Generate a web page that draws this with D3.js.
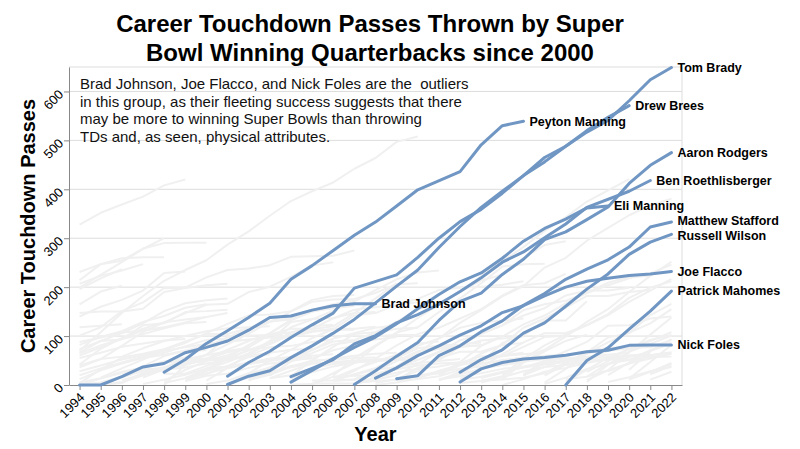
<!DOCTYPE html>
<html><head><meta charset="utf-8">
<script src="https://cdn.jsdelivr.net/npm/d3@7"></script>
<style>
body{margin:0;background:#fff;}
text{font-family:"Liberation Sans",Arial,Helvetica,sans-serif;}
</style>
</head><body>
<svg id="chart" width="800" height="449"></svg>
<script>
// ---------- DATA ----------
const yearTicks = [1994,1995,1996,1997,1998,1999,2000,2001,2002,2003,2004,2005,2006,2007,2008,2009,2010,2011,2012,2013,2014,2015,2016,2017,2018,2019,2020,2021,2022];
const yTicks = [0,100,200,300,400,500,600];

// Highlighted Super Bowl winners: start year and career TD totals (null = season skipped)
const winnerNames = ["Tom Brady","Drew Brees","Peyton Manning","Aaron Rodgers","Ben Roethlisberger","Eli Manning","Matthew Stafford","Russell Wilson","Joe Flacco","Patrick Mahomes","Nick Foles","Brad Johnson"];
const winnerStart = [2001,2001,1998,2007,2004,2004,2009,2012,2008,2017,2012,1994];
const tomBrady = [18,46,69,97,123,147,198,null,225,261,300,334,359,392,428,456,488,517,541,581,624,649];
const drewBrees = [1,18,29,56,80,106,134,168,202,235,281,324,363,396,428,465,488,520,547,571];
const peytonManning = [26,52,85,111,138,167,216,244,275,306,333,366,399,null,436,491,530,539];
const aaronRodgers = [1,29,59,87,132,171,188,226,257,297,313,338,364,412,449,475];
const benRoethlisberger = [17,34,52,84,101,127,144,165,191,219,251,272,301,329,363,null,396,418];
const eliManning = [6,30,54,77,98,125,156,185,211,229,259,294,320,339,362,366];
const matthewStafford = [13,19,60,80,109,131,163,187,216,237,256,282,323,333];
const russellWilson = [26,52,72,106,127,161,196,227,267,292,308];
const joeFlacco = [14,35,60,80,102,121,148,162,182,200,212,218,224,227,232];
const patrickMahomes = [0,50,76,114,151,192];
const nickFoles = [6,33,46,53,56,61,68,71,81,82,82];
const bradJohnson = [0,0,17,37,44,66,77,90,112,138,141,153,162,166,166];
const winnerTD = [tomBrady,drewBrees,peytonManning,aaronRodgers,benRoethlisberger,eliManning,matthewStafford,russellWilson,joeFlacco,patrickMahomes,nickFoles,bradJohnson];
const labelNudge = [0,0,0,0,0,0,-1.5,1.5,0,0,0,0];

// Other quarterbacks (background): start year and career TD totals
const otherStart = [1994,1994,1994,1994,1994,1994,1994,1994,1994,1994,1994,1994,1994,1995,1995,1997,1996,1999,2000,2004,2004,2008,2006,2006,2011,2011,2012,2014,2012,2016,2016,2005,1998,1998,2005,2018,2018,2012,2015,2000,1998,1994,1994,1994,1994,1994,2002,2003,2007,2020,2020,2019,2018,2017,2010,2012,2009,2001,2005,2003,2000,2006,2015,2014,2015,2013,2009,2006,2008,1995,1999,1999,1994,1994,1996,1994,1994,1994,
  1994,1994,1994,1994,1994,1994,1995,1996,1997,1998,1999,1999,2001,2002,2002,2002,2003,2004,2006,2006,2007,2007,2008,2008,2011,2011,2011,2012,2013,2013,2014,2016,2016,2017,2018,2019,2019,2020,2021,2021,2021,2022];
const otherTD = [
 [328,352,369,385,408,420],
 [199,225,251,278,300],
 [196,218,237],
 [231,247,259,261,261],
 [214,247,254,279,290,291,291],
 [207,223,234,247],
 [140,160,174,193,229,232],
 [165,191,203],
 [147,150,150,156,190,198,204,207],
 [82,98,110,129,141,158,165],
 [101,118,151,169,198,199,220,235,238,245,262,263,264,275],
 [70,108,147,182,213,235,255,287,314,346,376,396,414,442,464,497,508],
 [40,53,80,108,128,147,164,166,190,201,221,244,251],
 [14,25,36,48,56,78,97,116,129,150,170,175,176,188,206,208],
 [15,34,52,72,86,106,125,142,144,151,174,182,184],
 [15,32,41,54,72,90,105,132,150,161],
 [6,20,35,47,62,83,105,129,137,153,165,174],
 [8,29,54,71,87,118,134,152,171,194,216,230,234],
 [2,9,24,50,72,96,114,142,147,164,176,194,199,201,205,212],
 [18,50,78,104,108,129,155,168,190,214,225,260,286,294],
 [1,2,24,45,79,107,137,164,190,222,253,282,315,343,375,398,421],
 [16,38,66,95,127,153,181,202,240,260,295,321,347,367,381],
 [9,29,54,81,104,117,136,155,183,204,208,227],
 [19,55,81,107,118,149,177,208,242,247,248],
 [20,47,80,99,124,142,167,188,204,218,228,246],
 [21,40,64,82,117,136,158,182,182,190,194],
 [4,8,18,47,72,99,129,155,190,223,252],
 [21,53,81,103,122,143,170,193,217],
 [12,36,63,87,106,106,123,145,178,199,212],
 [23,45,67,97,106,143,166],
 [5,33,65,87,107,126,155],
 [1,17,19,19,37,51,68,81,104,122,142,157,183,193,193,199],
 [0,41,62,98,101,102,108,114,120,147,177,208],
 [23,23,39,56,82,106,133,150,157,162],
 [3,3,3,11,20,43,67,91,105,122,153,165,172,189,209,221,223],
 [10,30,67,103,138],
 [6,42,68,84,101],
 [23,46,86,101,132,132,171],
 [22,50,69,88,121,122,136,140],
 [33,47,65,90,129,135,137,147,149],
 [8,31,49,61,77,103,115,115,136,154,159,164,169],
 [73,90,106,126,151,167,173,177],
 [4,32,56,64,73,89,104,104,117,130,134],
 [36,53,58,75,90,100,110,116,118,120],
 [64,81,94,104,116,126,129],
 [1,5,17,38,59,70,82,89,93,97,98,109,113,113],
 [14,36,57,71,95,106,117,122],
 [19,48,72,89,92,107,115,117],
 [12,27,56,80,95,117,127,132,136],
 [13,47,82],
 [31,69,94],
 [20,46,70,84],
 [27,49,75,92,102],
 [12,17,44,51,71,87],
 [18,24,45,59,59,78,98,101],
 [10,31,50,56,72],
 [12,29,55,68,68,82,86],
 [1,23,36,52,54,71,81,100,102,102],
 [9,9,10,28,49,69,78,78,81,101],
 [14,29,44,46,49,50,54],
 [9,35,62,86,107,120,123],
 [14,32,47,62,85,89],
 [20,37,51,52,52,52,57,58],
 [11,46,69,90,103],
 [19,45,58,69,76,77,77,92],
 [9,11,15,24,46,64,75,77,83],
 [10,35,51,78,81],
 [10,22,35,55,75,81,83,87],
 [21,37,64,74,80,91,95,99],
 [1,4,25,36,42,53,67,73,77],
 [14,33,56,71,83,103,110,115,115,119],
 [15,22,39,57,64],
 [66,90,93,122,126,149,151,154],
 [0,13,25,32,34,43,50,52,60,77,80,88,93],
 [15,29,36,53,61,69,77],
 [118,121,124],
 [60,77,95,112,118,128,139,147],
 [42,74,96,115,128,134,139],
 [28,40,52,61,70,77,84,90,92],
 [55,66,78,85,91,94],
 [12,30,44,55,62,70,71],
 [20,34,46,58,66,79,92,95],
 [5,14,27,36,45,51,54,56],
 [88,97,107,112,116],
 [0,6,20,31,36,44,51,58,63],
 [10,22,34,43,51,56,60,66,72,74],
 [2,11,21,34,38,46,53,57],
 [4,14,29,38,43,54,56,58],
 [8,19,23,35,44,49,56],
 [12,24,34,43,49,55,60,63],
 [4,15,24,39,47,54,60,64,66],
 [12,34,50,65,83,89,93,98],
 [9,27,36,44,47,50,52,55],
 [10,21,37,50,52,55,56],
 [14,20,34,43,46,49,51,52],
 [13,26,38,46,50,54,58],
 [9,21,31,37,45,49,53],
 [8,12,23,32,40,44,46],
 [4,8,10,12,18,31,43,51,56],
 [3,16,25,33,38,46,52,60,66],
 [0,5,13,29,41,49,59,63,67],
 [4,12,19,27,33,38,41,46],
 [9,27,45,48,52,60,62],
 [12,22,33,41,48,53,55],
 [11,18,24,33,38,45,50,55,57,60,62],
 [10,17,27,36,42,47,55],
 [5,16,28,37,41,47,52,60,64],
 [14,25,36,49,54,58,62,66],
 [0,12,27,35,45,53,60,61,66],
 [19,42,52,70,75,80],
 [2,15,33,42,57,68],
 [7,31,56,73,90,108],
 [17,30,44,54,64],
 [28,44,61,67],
 [6,16,28,37],
 [11,27,43,60],
 [26,45,61],
 [11,27,44],
 [22,39],
 [17,36],
 [12,32],
 [17,19],
 [8,14]
];

const titleLines = ["Career Touchdown Passes Thrown by Super","Bowl Winning Quarterbacks since 2000"];
const noteLines = ["Brad Johnson, Joe Flacco, and Nick Foles are the  outliers","in this group, as their fleeting success suggests that there","may be more to winning Super Bowls than throwing","TDs and, as seen, physical attributes."];

// ---------- CHART ----------
const svg = d3.select("#chart");
const L = 69, R = 682, T = 67, B = 385;
const x = d3.scalePoint().domain(yearTicks).range([L, R]).padding(0.5);
const y = d3.scaleLinear().domain([0, 650]).range([B, T]);

function toPoints(start, vals){
  return vals.map((v,i)=>({year:start+i, v:v})).filter(d=>d.v!==null);
}
const line = d3.line().x(d=>x(d.year)).y(d=>y(d.v));

// grid
svg.append("g").selectAll("line").data(yTicks.slice(1)).join("line")
  .attr("x1", L).attr("x2", R).attr("y1", d=>y(d)).attr("y2", d=>y(d))
  .attr("stroke", "#dddddd").attr("stroke-width", 1);
// frame top/right
svg.append("path").attr("d", `M${L},${T}H${R}V${B}`).attr("fill","none").attr("stroke","#dddddd");

// background lines
svg.append("g").selectAll("path").data(otherTD.map((v,i)=>toPoints(otherStart[i], v))).join("path")
  .attr("d", line).attr("fill","none").attr("stroke","#f0f0f0").attr("stroke-width",2)
  .attr("stroke-linejoin","round");

// axes
const xAxis = svg.append("g").attr("transform", `translate(0,${B})`)
  .call(d3.axisBottom(x).tickSize(5).tickSizeOuter(0));
xAxis.select(".domain").attr("stroke","#888");
xAxis.selectAll(".tick line").attr("stroke","#888");
xAxis.selectAll(".tick text").attr("font-size", 13).attr("fill","#000")
  .attr("text-anchor","end").attr("x",0).attr("y",0).attr("dy","0.35em")
  .attr("transform","translate(2,10) rotate(-45)");

const yAxis = svg.append("g").attr("transform", `translate(${L},0)`)
  .call(d3.axisLeft(y).tickValues(yTicks).tickSize(5).tickSizeOuter(0));
yAxis.select(".domain").attr("stroke","#888");
yAxis.selectAll(".tick line").attr("stroke","#888");
yAxis.selectAll(".tick text").attr("font-size", 13).attr("fill","#000")
  .attr("x",0).attr("dy","0.35em").attr("text-anchor","end")
  .attr("transform","translate(-8,0) rotate(-45)");
svg.selectAll(".tick text").attr("font-family", "Liberation Sans, Arial, sans-serif");

// highlighted lines
const winners = winnerTD.map((v,i)=>({name:winnerNames[i], nudge:labelNudge[i], pts:toPoints(winnerStart[i], v)}));
svg.append("g").selectAll("path").data(winners).join("path")
  .attr("d", d=>line(d.pts)).attr("fill","none").attr("stroke","#7096c3").attr("stroke-width",3)
  .attr("stroke-linejoin","round").attr("stroke-linecap","round");

// labels
svg.append("g").selectAll("text").data(winners).join("text")
  .attr("x", d=>x(d.pts[d.pts.length-1].year)+6)
  .attr("y", d=>y(d.pts[d.pts.length-1].v)+d.nudge)
  .attr("dy","0.35em").attr("font-size",12.5).attr("font-weight","bold").attr("fill","#000")
  .text(d=>d.name);

// annotation
svg.append("g").selectAll("text").data(noteLines).join("text")
  .attr("x", 80).attr("y", (d,i)=>89 + i*17.7).attr("font-size",15).attr("fill","#111")
  .attr("xml:space","preserve").style("white-space","pre")
  .text(d=>d);

// title
svg.append("g").selectAll("text").data(titleLines).join("text")
  .attr("x", 370).attr("y", (d,i)=>32 + i*29).attr("text-anchor","middle")
  .attr("font-size",24).attr("font-weight","bold").attr("fill","#000").text(d=>d);

// axis titles
svg.append("text").attr("transform",`translate(35,${(T+B)/2}) rotate(-90)`)
  .attr("text-anchor","middle").attr("font-size",20).attr("font-weight","bold").text("Career Touchdown Passes");
svg.append("text").attr("x",(L+R)/2).attr("y",441).attr("text-anchor","middle")
  .attr("font-size",20).attr("font-weight","bold").text("Year");
</script>
</body></html>
